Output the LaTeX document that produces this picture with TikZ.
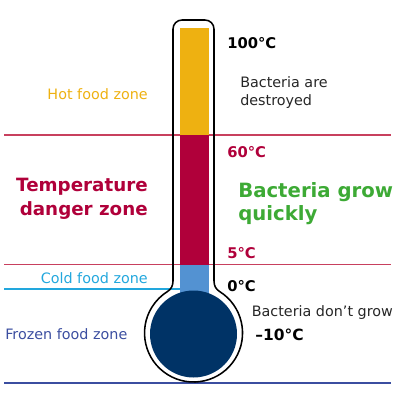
\documentclass[tikz,border=0pt]{standalone}
\usepackage{fontspec}
\setmainfont{DejaVu Sans}
\usepackage{tikz}
\usetikzlibrary{positioning}
\definecolor{hotyellow}{HTML}{EEB111}
\definecolor{dangerred}{HTML}{B0003A}
\definecolor{dangerline}{HTML}{C8405E}
\definecolor{coldblue}{HTML}{5392D2}
\definecolor{coldtext}{HTML}{22A7DD}
\definecolor{bulbnavy}{HTML}{003366}
\definecolor{frozentext}{HTML}{3B4EA0}
\definecolor{growgreen}{HTML}{3DAA35}

\begin{document}
\begin{tikzpicture}[x=0.025cm,y=-0.025cm,
  lbl/.style={inner sep=0,anchor=base west,font=\fontsize{10.2}{13.2}\selectfont},
  temp/.style={inner sep=0,anchor=base west,font=\bfseries\fontsize{10.5}{13}\selectfont},
  zoneline/.style={line width=0.75pt}]
  \useasboundingbox (0,0) rectangle (400,400);
  % zone boundaries
  \coordinate (hotL) at (4,135);     \coordinate (hotR) at (391,135);
  \coordinate (dangerL) at (4,264.5); \coordinate (dangerR) at (391,264.5);
  \coordinate (coldL) at (4,289);    \coordinate (coldR) at (180,289);
  \coordinate (frozenL) at (4,383);  \coordinate (frozenR) at (391,383);
  \draw[zoneline,dangerline] (hotL) -- (hotR);
  \draw[zoneline,dangerline] (dangerL) -- (dangerR);
  \draw[zoneline,coldtext] (coldL) -- (coldR);
  \draw[zoneline,frozentext] (frozenL) -- (frozenR);
  % thermometer
  \fill[hotyellow] (180,28) rectangle (208.5,135);
  \fill[dangerred] (180,135) rectangle (208.5,264.5);
  \fill[coldblue] (180,264.5) rectangle (208.5,300);
  \fill[bulbnavy] (193.5,334) circle[radius=43.5];
  \draw[line width=1.1pt] (173,281) -- (173,29) arc[start angle=180,end angle=270,radius=9]
    -- (205,20) arc[start angle=270,end angle=360,radius=9] -- (214,281)
    .. controls (214,286) and (216.1,289.3) .. (219.5,291.45)
    arc[start angle=-58,end angle=238,radius=49]
    .. controls (170.9,289.3) and (173,286) .. (173,281) -- cycle;
  % temperatures
  \node[temp] (t100) at (227,49) {100°C};
  \node[temp,dangerred] (t60) at (227,157) {60°C};
  \node[temp,dangerred] (t5) at (227,258.3) {5°C};
  \node[temp] (t0) at (227,291.7) {0°C};
  \node[temp,font=\bfseries\fontsize{11}{13}\selectfont] (tm10) at (255,340) {–10°C};
  % zones (multi-line nodes sit on their last line)
  \node[lbl,anchor=base east,hotyellow] (hot) at (148,100) {Hot food zone};
  \node[lbl,anchor=base east,dangerred,align=right,
    font=\bfseries\fontsize{13}{16.5}\selectfont] (danger) at (148,215) {Temperature\\danger zone};
  \node[lbl,anchor=base east,coldtext] (cold) at (148,283) {Cold food zone};
  \node[lbl,frozentext] (frozen) at (5,339.5) {Frozen food zone};
  % bacteria
  \node[lbl,align=left,black!85] (destroyed) at (240,106) {Bacteria are\\destroyed};
  \node[lbl,align=left,growgreen,
    font=\bfseries\fontsize{14}{15.8}\selectfont] (grow) at (238,220) {Bacteria grow\\quickly};
  \node[lbl,black!85] (nogrow) at (251.5,316) {Bacteria don’t grow};
\end{tikzpicture}
\end{document}
